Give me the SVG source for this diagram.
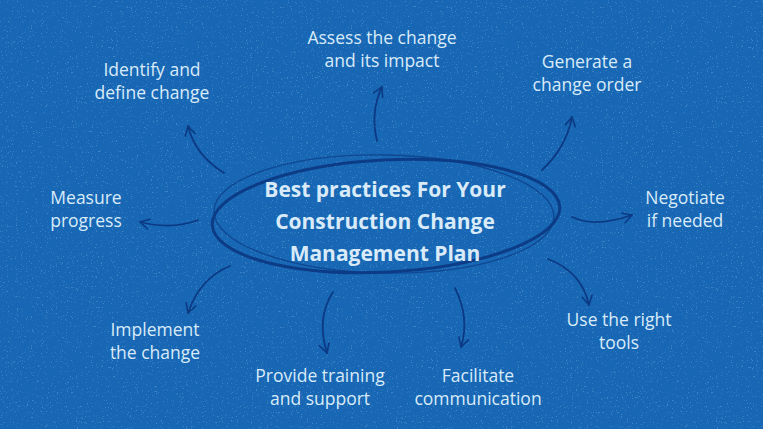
<svg xmlns="http://www.w3.org/2000/svg" width="763" height="429" viewBox="0 0 763 429">
<defs>
<style>
.lbl{font-family:"Open Sans","Liberation Sans",sans-serif;font-size:17.5px;fill:#d9ebf8;text-anchor:middle}
.ttl{font-family:"Open Sans","Liberation Sans",sans-serif;font-size:21px;font-weight:bold;fill:#d9ebf8;text-anchor:middle}
.arr{fill:none;stroke:#0c3a84;stroke-width:1.8;stroke-linecap:round;marker-end:url(#ah)}
.ell{fill:none;stroke:#0d3c86;stroke-linecap:round}
</style>
<marker id="ah" viewBox="0 0 12 12" refX="10" refY="6" markerWidth="12" markerHeight="12" markerUnits="userSpaceOnUse" orient="auto">
<path d="M1,1 L10,6 L1,11" fill="none" stroke="#0c3a84" stroke-width="1.6" stroke-linecap="round" stroke-linejoin="round"/>
</marker>
<filter id="speck" x="0" y="0" width="100%" height="100%">
<feTurbulence type="fractalNoise" baseFrequency="0.8" numOctaves="2" seed="3" result="n"/>
<feColorMatrix in="n" type="matrix" values="0 0 0 0 0.75  0 0 0 0 0.85  0 0 0 0 0.95  0 0 0 9 -5.9"/>
</filter>
</defs>
<rect width="763" height="429" fill="#1767b5"/>
<rect width="763" height="429" filter="url(#speck)" opacity="0.22"/>

<g id="center">
<ellipse class="ell" cx="386" cy="216" rx="174" ry="56" transform="rotate(-3 386 216)" stroke-width="3"/>
<ellipse class="ell" cx="384" cy="214" rx="170" ry="59" transform="rotate(1 384 214)" stroke-width="1.4" opacity="0.75"/>
<text class="ttl" x="385" y="197">Best practices For Your</text>
<text class="ttl" x="385" y="229">Construction Change</text>
<text class="ttl" x="385" y="261">Management Plan</text>
</g>

<g id="connectors">
<path class="arr" d="M224,173 Q195,155 188,126"/>
<path class="arr" d="M377,141 Q370,112 382,87"/>
<path class="arr" d="M542,170 Q566,148 572,117"/>
<path class="arr" d="M572,217 Q595,228 632,215"/>
<path class="arr" d="M548,259 Q582,272 589,305"/>
<path class="arr" d="M455,288 Q470,318 461,347"/>
<path class="arr" d="M333,292 Q316,318 327,353"/>
<path class="arr" d="M230,266 Q200,278 188,313"/>
<path class="arr" d="M198,220 Q172,230 140,222"/>
</g>

<g id="n-identify"><text class="lbl" x="152" y="76">Identify and</text><text class="lbl" x="152" y="99">define change</text></g>
<g id="n-assess"><text class="lbl" x="382" y="44">Assess the change</text><text class="lbl" x="382" y="67">and its impact</text></g>
<g id="n-generate"><text class="lbl" x="587" y="68">Generate a</text><text class="lbl" x="587" y="91">change order</text></g>
<g id="n-negotiate"><text class="lbl" x="685" y="204">Negotiate</text><text class="lbl" x="685" y="227">if needed</text></g>
<g id="n-tools"><text class="lbl" x="619" y="326">Use the right</text><text class="lbl" x="619" y="349">tools</text></g>
<g id="n-facilitate"><text class="lbl" x="478" y="382">Facilitate</text><text class="lbl" x="478" y="405">communication</text></g>
<g id="n-training"><text class="lbl" x="320" y="382">Provide training</text><text class="lbl" x="320" y="405">and support</text></g>
<g id="n-implement"><text class="lbl" x="155" y="336">Implement</text><text class="lbl" x="155" y="359">the change</text></g>
<g id="n-measure"><text class="lbl" x="86" y="204">Measure</text><text class="lbl" x="86" y="227">progress</text></g>
</svg>
